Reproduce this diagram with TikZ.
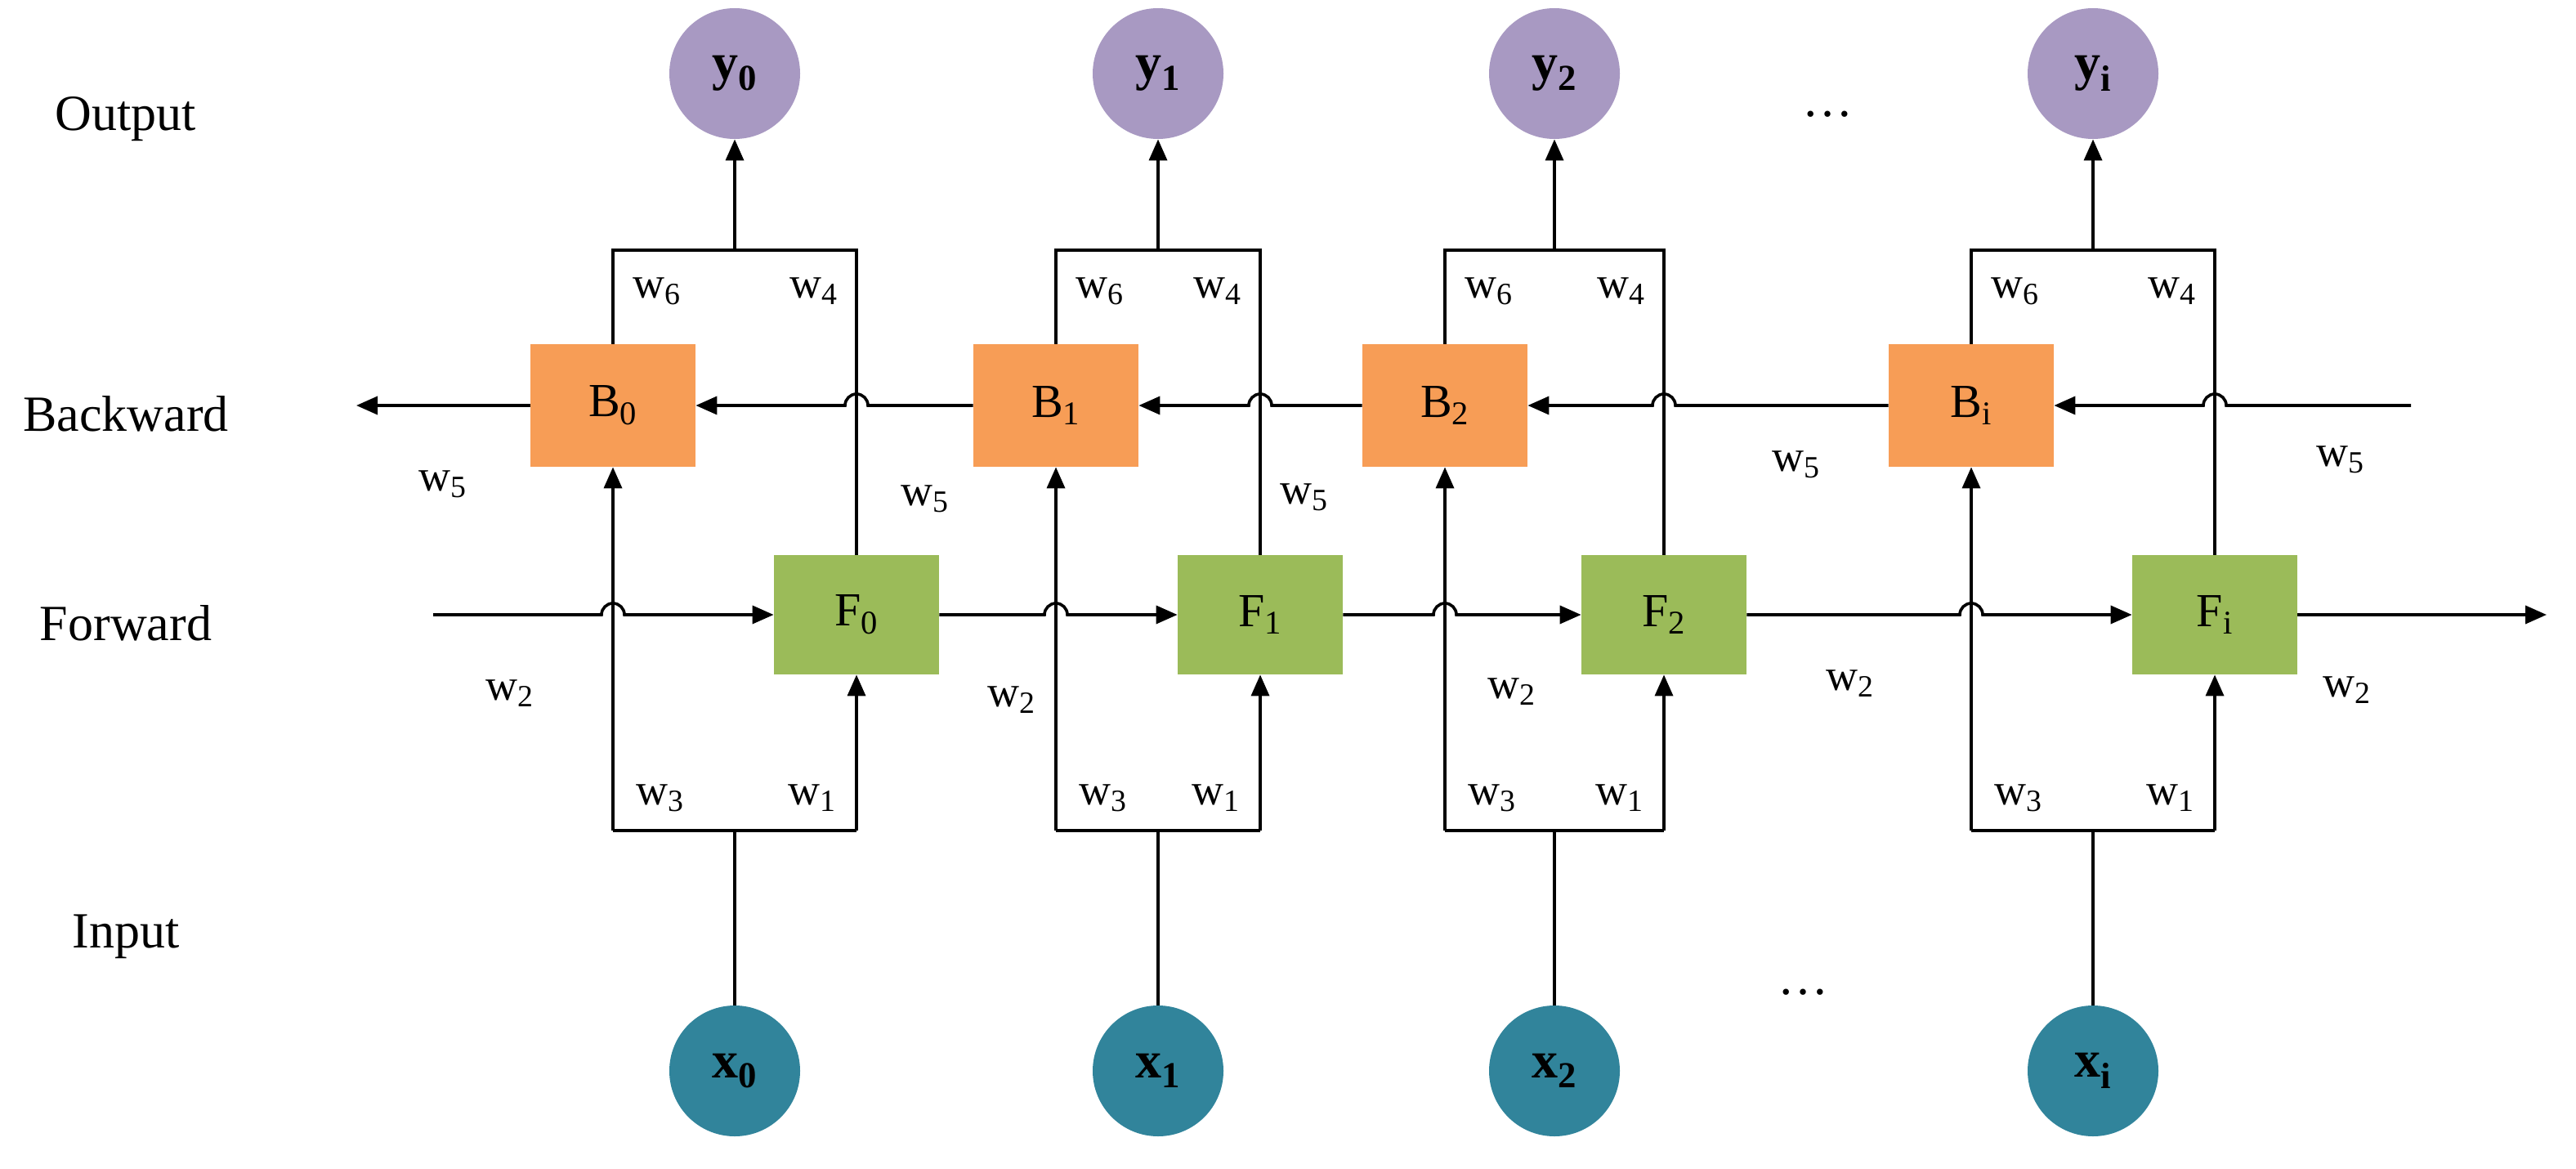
\documentclass[tikz,border=0pt]{standalone}
\usepackage{fontspec}
\setmainfont{Liberation Serif}
\usetikzlibrary{arrows.meta}
\definecolor{cpur}{HTML}{A899C2}
\definecolor{cteal}{HTML}{31849B}
\definecolor{corg}{HTML}{F79D56}
\definecolor{cgrn}{HTML}{9BBB59}
\begin{document}
\begin{tikzpicture}[x=1pt,y=1pt,
  ln/.style={line width=1.8pt},
  arr/.style={ln,-{Triangle[length=13pt,width=11pt]}},
  bbox/.style={fill=corg,minimum width=101pt,minimum height=75pt,inner sep=0,font=\fontsize{29}{31}\selectfont},
  fbox/.style={fill=cgrn,minimum width=101pt,minimum height=73pt,inner sep=0,font=\fontsize{29}{31}\selectfont},
  ycirc/.style={circle,fill=cpur,minimum size=80pt,inner sep=0,font=\bfseries\fontsize{32}{34}\selectfont},
  xcirc/.style={circle,fill=cteal,minimum size=80pt,inner sep=0,font=\bfseries\fontsize{32}{34}\selectfont},
  lab/.style={font=\fontsize{31}{33}\selectfont},
  wl/.style={font=\fontsize{27}{29}\selectfont}]
\useasboundingbox (0,-714.5) rectangle (1576,0);
\node[lab] (tOut) at (77,-73) {Output};
\node[lab] (tBack) at (77,-253) {Backward};
\node[lab] (tFor) at (77,-381) {Forward};
\node[lab] (tIn) at (77,-573) {Input};
\node[lab] (d1) at (1118,-70) {\dots};
\node[lab] (d2) at (1103,-607) {\dots};
\foreach \k/\L/\R/\s/\ax/\ay/\bx/\by in {0/375/524/0/271/-296/312/-424, 1/646/771/1/566/-305/619/-428, 2/884/1018/2/798/-304/925/-423, 3/1206/1355/i/1099/-284/1132/-418}{
  \pgfmathsetmacro{\M}{(\L+\R)/2}
  \node[bbox] (B\k) at (\L,-248) {B\textsubscript{\s}};
  \node[fbox] (F\k) at (\R,-376) {F\textsubscript{\s}};
  \node[ycirc] (Y\k) at (\M,-45) {y\textsubscript{\s}};
  \node[xcirc] (X\k) at (\M,-655) {x\textsubscript{\s}};
  \coordinate (tl\k) at (\L,-153);
  \coordinate (tr\k) at (\R,-153);
  \coordinate (tm\k) at (\M,-153);
  \coordinate (bl\k) at (\L,-508);
  \coordinate (br\k) at (\R,-508);
  \coordinate (bm\k) at (\M,-508);
  \draw[ln] (B\k.north) -- (tl\k) -- (tr\k) -- (F\k.north);
  \draw[arr] (tm\k) -- (Y\k.south);
  \draw[ln] (X\k.north) -- (bm\k);
  \draw[ln] (bl\k) -- (br\k);
  \draw[arr] (bl\k) -- (B\k.south);
  \draw[arr] (br\k) -- (F\k.south);
  \node[wl] (w6\k) at (\L+27,-178) {w\textsubscript{6}};
  \node[wl] (w4\k) at (\R-26,-178) {w\textsubscript{4}};
  \node[wl] (w3\k) at (\L+29,-488) {w\textsubscript{3}};
  \node[wl] (w1\k) at (\R-27,-488) {w\textsubscript{1}};
  \node[wl] (w5\k) at (\ax,\ay) {w\textsubscript{5}};
  \node[wl] (w2\k) at (\bx,\by) {w\textsubscript{2}};
}
\node[wl] (w5e) at (1432,-281) {w\textsubscript{5}};
\node[wl] (w2e) at (1436,-422) {w\textsubscript{2}};
% backward line
\coordinate (bs) at (1475,-248);
\coordinate (be) at (218,-248);
\draw[arr] (bs) -- (1362,-248) arc (0:180:7) -- (B3.east);
\draw[arr] (B3.west) -- (1025,-248) arc (0:180:7) -- (B2.east);
\draw[arr] (B2.west) -- (778,-248) arc (0:180:7) -- (B1.east);
\draw[arr] (B1.west) -- (531,-248) arc (0:180:7) -- (B0.east);
\draw[arr] (B0.west) -- (be);
% forward line
\coordinate (fs) at (265,-376);
\coordinate (fe) at (1558,-376);
\draw[arr] (fs) -- (368,-376) arc (180:0:7) -- (F0.west);
\draw[arr] (F0.east) -- (639,-376) arc (180:0:7) -- (F1.west);
\draw[arr] (F1.east) -- (877,-376) arc (180:0:7) -- (F2.west);
\draw[arr] (F2.east) -- (1199,-376) arc (180:0:7) -- (F3.west);
\draw[arr] (F3.east) -- (fe);
\end{tikzpicture}
\end{document}
